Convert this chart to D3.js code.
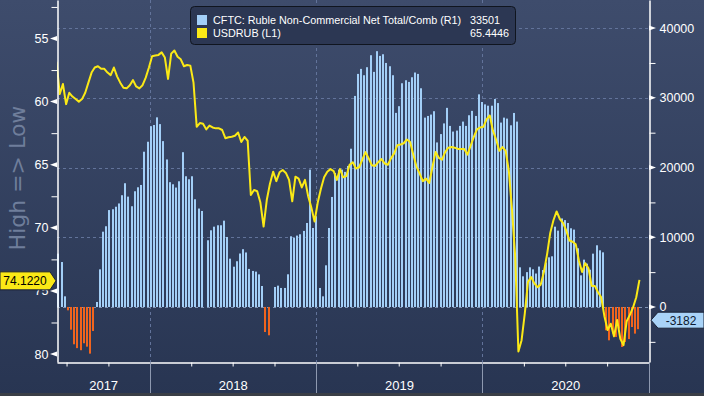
<!DOCTYPE html>
<html>
<head>
<meta charset="utf-8">
<script src="https://cdn.jsdelivr.net/npm/d3@7"></script>
<style>
  html, body { margin: 0; padding: 0; background: #2b3856; }
  svg { display: block; }
  text { font-family: "Liberation Sans", Arial, sans-serif; }
</style>
</head>
<body>
<div id="chart"></div>
<script>
// CFTC Ruble non-commercial net positions, weekly (Tuesdays) from barStart
var barStart = "2017-06-13";
var bars2017 = [7650, 6450, 1530, -480, -3250, -5350, -5900, -6200, -5200, -5690, -6690, -3440,
  720, 5400, 10800, 11580, 13900, 14020, 14380, 14850, 16030, 17750, 15830, 14450, 16600, 17170,
  17500, 22270, 23700];
var bars2018 = [25930, 26100, 27200, 26230, 23790, 21160, 17900, 17600, 17130, 18030, 22200, 18750,
  18320, 18750, 15450, 14120, 13770, null, 9570, 11000, 11520, 11720, 11720, 12380, 10040, 6930,
  5780, 6560, 7670, 8290, 7820, 5460, 5170, 5070, 4680, 3010, -3590, -4060, null, 2870, 3060, 2730,
  2730, 4690, 10140, 9950, 10240, 10430, 10910, 12050, 19700, 11330];
var bars2019 = [13000, 2730, 1530, 5980, 11330, 15780, 19220, 19700, 19700, 19380, 20230, 22700,
  30270, 33430, 34150, 33240, 34390, 36110, 33720, 36690, 36010, 36250, 35000, 34530, 33240, 27840,
  28800, 32090, 32520, 32280, 32950, 33630, 33430, 31370, 27160, 27400, 27600, 28080, 23600, 24800,
  26330, 28560, 25970, 25160, 25300, 25970, 26590, 25970, 27500, 28130, 27400, 30500, 29400];
var bars2020 = [29060, 28870, 28870, 29830, 29250, 26450, 27160, 27020, 26060, 27830, 26590,
  5690, 4400, 5000, 5690, 5400, 4800, 5800, 5300, 6390, 7120, 7270,
  11520, 10950, 12700, 12460, 12050, 11290, 11100, 8420, 4540, 6790, 6220, 5350, 7650, 8850, 8130, 7840,
  -3340, -4780, -3820, -4300, -3100, -5740, -5020, -4600, -2870, -3820, -3182];

// USDRUB weekly closes (Fridays) from lineStart
var lineStart = "2017-06-09";
var usd2017 = [56.84, 59.4, 58.6, 60.2, 59.3, 59.6, 59.8, 60.0, 59.8, 59.3, 58.5, 57.7, 57.3, 57.2,
  57.4, 57.4, 57.7, 57.9, 57.3, 58.0, 58.5, 58.9, 58.95, 58.7, 58.3, 58.8, 58.95, 58.7, 58.1, 57.3];
var usd2018 = [56.4, 56.35, 56.3, 56.1, 56.5, 58.2, 56.2, 55.95, 56.45, 56.65, 57.2, 57.1, 57.15,
  58.5, 61.99, 61.7, 61.75, 62.2, 61.9, 62.05, 62.12, 62.12, 62.25, 62.9, 62.83, 62.78, 62.7, 62.45,
  63.2, 62.8, 63.1, 67.4, 67.0, 67.1, 68.0, 69.9, 67.8, 66.5, 65.55, 66.3, 65.6, 65.42, 65.65, 66.2,
  67.9, 65.95, 66.1, 66.8, 66.2, 67.5, 68.4, 69.5];
var usd2019 = [68.0, 66.9, 66.0, 65.55, 65.35, 65.5, 66.2, 65.35, 66.0, 65.9, 65.0, 64.8, 65.3, 65.2,
  64.6, 64.0, 64.5, 65.05, 65.1, 64.8, 64.55, 64.9, 65.0, 64.5, 64.1, 63.45, 63.4, 63.3, 63.0, 63.2,
  64.2, 65.15, 65.7, 66.3, 66.1, 66.45, 65.2, 64.0, 64.45, 64.6, 64.0, 63.65, 63.6, 63.65, 63.75,
  63.75, 63.75, 64.2, 63.5, 62.8, 62.2, 62.05];
var usd2020 = [62.0, 61.4, 61.1, 62.3, 63.0, 63.9, 63.6, 63.9, 65.5, 68.6, 72.3, 79.8, 78.9, 76.8,
  74.3, 73.9, 74.4, 74.7, 74.5, 73.5, 72.1, 70.4, 69.4, 68.7, 69.3, 69.6, 70.2, 71.0, 71.1, 71.3,
  72.6, 73.5, 72.8, 73.2, 74.6, 74.6, 75.1, 75.5, 77.0, 78.1, 77.6, 78.6, 77.3, 78.8, 79.3, 77.4,
  76.9, 76.3, 75.5, 74.122];

var yearLabels = ["2017", "2018", "2019", "2020"];
var leftMajor = [55, 60, 65, 70, 75, 80];
var leftMinor = [52.5, 57.5, 62.5, 67.5, 72.5, 77.5];
var rightMajor = [0, 10000, 20000, 30000, 40000];
var rightMinor = [-5000, 5000, 15000, 25000, 35000];
var legendNames = ["CFTC: Ruble Non-Commercial Net Total/Comb (R1)", "USDRUB (L1)"];
var legendValues = ["33501", "65.4446"];
var lastLineLabel = "74.1220", lastLineValue = 74.122;
var lastBarLabel = "-3182", lastBarValue = -3182;

var W = 704, H = 396;
var plot = {left: 57, right: 649, top: 0, bottom: 362};
var blue = "#a3cff7", orange = "#f0641e", yellow = "#fbe916";

// build dated series
var parse = d3.utcParse("%Y-%m-%d");
var barValues = bars2017.concat(bars2018, bars2019, bars2020);
var barData = barValues.map(function(v, i){ return {date: d3.utcDay.offset(parse(barStart), 7*i), value: v}; })
  .filter(function(d){ return d.value !== null; });
var lineValues = usd2017.concat(usd2018, usd2019, usd2020);
var lineData = lineValues.map(function(v, i){ return {date: d3.utcDay.offset(parse(lineStart), 7*i), value: v}; });

var svg = d3.select("#chart").append("svg").attr("width", W).attr("height", H);

// background
var defs = svg.append("defs");
var grad = defs.append("linearGradient").attr("id", "bg")
  .attr("x1", 0).attr("y1", 0).attr("x2", 0).attr("y2", 1);
grad.append("stop").attr("offset", "0%").attr("stop-color", "#3e4c6c");
grad.append("stop").attr("offset", "100%").attr("stop-color", "#283552");
svg.append("rect").attr("width", W).attr("height", H).attr("fill", "url(#bg)");
svg.append("rect").attr("y", H - 3).attr("width", W).attr("height", 3).attr("fill", "#3a3e46");

defs.append("clipPath").attr("id", "clipPlot").append("rect")
  .attr("x", plot.left).attr("y", plot.top)
  .attr("width", plot.right - plot.left).attr("height", plot.bottom - plot.top);

// scales
var x = d3.scaleUtc()
  .domain([parse("2017-06-10"), parse("2021-01-01")])
  .range([plot.left, plot.right]);
var yL = d3.scaleLinear().domain([51.95, 80.63]).range([plot.top, plot.bottom]);   // inverted: High => Low
var yR = d3.scaleLinear().domain([-7890, 44030]).range([plot.bottom, plot.top]);

// gridlines
var grid = svg.append("g").attr("class", "grid");
grid.selectAll(".h").data(rightMajor).enter().append("line")
  .attr("x1", plot.left).attr("x2", plot.right)
  .attr("y1", function(d){ return Math.round(yR(d)) + 0.5; })
  .attr("y2", function(d){ return Math.round(yR(d)) + 0.5; })
  .attr("stroke", function(d){ return d === 0 ? "#7f92b3" : "#62739a"; })
  .attr("stroke-dasharray", "3,3");
var yearStarts = [parse("2018-01-01"), parse("2019-01-01"), parse("2020-01-01")];
grid.selectAll(".v").data(yearStarts).enter().append("line")
  .attr("x1", function(d){ return Math.round(x(d)) + 0.5; })
  .attr("x2", function(d){ return Math.round(x(d)) + 0.5; })
  .attr("y1", plot.top).attr("y2", plot.bottom)
  .attr("stroke", "#62739a").attr("stroke-dasharray", "3,3");

var inner = svg.append("g").attr("clip-path", "url(#clipPlot)");

// bars
inner.selectAll(".bar").data(barData).enter().append("rect")
  .attr("class", "bar")
  .attr("x", function(d){ return Math.round(x(d.date) - 1); })
  .attr("width", 2)
  .attr("y", function(d){ return d.value >= 0 ? yR(d.value) : yR(0); })
  .attr("height", function(d){ return Math.abs(yR(d.value) - yR(0)); })
  .attr("fill", function(d){ return d.value >= 0 ? blue : orange; });

// USDRUB line
var line = d3.line()
  .x(function(d){ return x(d.date); })
  .y(function(d){ return yL(d.value); });
inner.append("path").datum(lineData)
  .attr("d", line)
  .attr("fill", "none")
  .attr("stroke", yellow)
  .attr("stroke-width", 2)
  .attr("stroke-linejoin", "round");

// bottom axis: quarter ticks, year separators, year labels
var quarters = [];
d3.utcMonth.every(3).range(parse("2017-07-01"), parse("2021-01-01")).forEach(function(d){
  if (d.getUTCMonth() !== 0) quarters.push(d);
});
var xAxis = d3.axisBottom(x).tickValues(quarters).tickSize(4).tickSizeOuter(0).tickFormat("");
var gX = svg.append("g").attr("transform", "translate(0," + (plot.bottom + 0.5) + ")").call(xAxis);
gX.select(".domain").attr("stroke", "#ffffff").attr("stroke-width", 1.5);
gX.selectAll(".tick line").attr("stroke", "#ffffff");

var seps = yearStarts.concat([parse("2021-01-01")]);
svg.selectAll(".sep").data(seps).enter().append("line")
  .attr("x1", function(d){ return Math.round(x(d)) + 0.5; })
  .attr("x2", function(d){ return Math.round(x(d)) + 0.5; })
  .attr("y1", plot.bottom).attr("y2", H - 3)
  .attr("stroke", "#8e99b0");

var yearBounds = [parse("2017-06-10")].concat(seps);
svg.selectAll(".year").data(yearLabels).enter().append("text")
  .attr("x", function(d, i){ return (x(yearBounds[i]) + x(yearBounds[i + 1])) / 2; })
  .attr("y", 390)
  .attr("text-anchor", "middle")
  .attr("fill", "#ffffff")
  .style("font-size", "13px")
  .text(function(d){ return d; });

// left axis
var gL = svg.append("g").attr("transform", "translate(" + (plot.left + 0.5) + ",0)")
  .call(d3.axisLeft(yL).tickValues(leftMajor).tickSize(0).tickSizeOuter(0).tickPadding(9));
gL.select(".domain").attr("stroke", "#ffffff").attr("stroke-width", 1.5);
gL.selectAll("text").attr("fill", "#ffffff").style("font-size", "12.5px");
var gLm = svg.append("g").attr("transform", "translate(" + (plot.left + 0.5) + ",0)")
  .call(d3.axisLeft(yL).tickValues(leftMinor).tickSize(6).tickFormat(""));
gLm.select(".domain").remove();
gLm.selectAll(".tick line").attr("stroke", "#ffffff");
svg.selectAll(".ltri").data(leftMajor).enter().append("path")
  .attr("d", function(d){ var y = yL(d); return "M" + plot.left + "," + (y - 2.5) + "L" + (plot.left - 7) + "," + y + "L" + plot.left + "," + (y + 2.5) + "Z"; })
  .attr("fill", "#ffffff");

// right axis
var gR = svg.append("g").attr("transform", "translate(" + (plot.right + 0.5) + ",0)")
  .call(d3.axisRight(yR).tickValues(rightMajor).tickSize(0).tickSizeOuter(0).tickPadding(10).tickFormat(d3.format("d")));
gR.select(".domain").attr("stroke", "#ffffff").attr("stroke-width", 1.5);
gR.selectAll("text").attr("fill", "#ffffff").style("font-size", "12.5px");
var gRm = svg.append("g").attr("transform", "translate(" + (plot.right + 0.5) + ",0)")
  .call(d3.axisRight(yR).tickValues(rightMinor).tickSize(6).tickFormat(""));
gRm.select(".domain").remove();
gRm.selectAll(".tick line").attr("stroke", "#ffffff");
svg.selectAll(".rtri").data(rightMajor).enter().append("path")
  .attr("d", function(d){ var y = yR(d); return "M" + plot.right + "," + (y - 2.5) + "L" + (plot.right + 7) + "," + y + "L" + plot.right + "," + (y + 2.5) + "Z"; })
  .attr("fill", "#ffffff");

// left axis title
svg.append("text")
  .attr("transform", "translate(25,178)rotate(-90)")
  .attr("text-anchor", "middle")
  .attr("fill", "#6f7e9b")
  .style("font-family", "'DejaVu Sans', sans-serif")
  .style("font-size", "22px")
  .text("High => Low");

// last value callouts
var ly = yL(lastLineValue) + 1;
svg.append("path")
  .attr("d", "M0," + (ly - 9) + "H50L56," + ly + "L50," + (ly + 9) + "H0Z")
  .attr("fill", yellow).attr("stroke", "#1a2236").attr("stroke-width", 1);
svg.append("text").attr("x", 25).attr("y", ly + 4.5).attr("text-anchor", "middle")
  .attr("fill", "#000000").style("font-size", "12px").text(lastLineLabel);

var by = yR(lastBarValue) - 9;   // shifted up to clear the "0" label
svg.append("path")
  .attr("d", "M651," + by + "L658," + (by - 8) + "H704V" + (by + 8) + "H658Z")
  .attr("fill", "#a9d3f7").attr("stroke", "#1a2236").attr("stroke-width", 1);
svg.append("text").attr("x", 681).attr("y", by + 4.5).attr("text-anchor", "middle")
  .attr("fill", "#0d1a30").style("font-size", "12px").text(lastBarLabel);

// legend
var lg = svg.append("g").attr("class", "legend");
lg.append("rect").attr("x", 190.5).attr("y", 6.5).attr("width", 325).attr("height", 38).attr("rx", 4)
  .attr("fill", "#2c3753").attr("stroke", "#10151f");
var rows = lg.selectAll(".row").data(legendNames).enter().append("g")
  .attr("transform", function(d, i){ return "translate(0," + (20 + i * 13) + ")"; });
rows.append("rect").attr("x", 197).attr("y", -5).attr("width", 10).attr("height", 10)
  .attr("fill", function(d, i){ return i === 0 ? blue : yellow; });
rows.append("text").attr("x", 213).attr("y", 4).attr("fill", "#ffffff")
  .style("font-size", "10.8px").text(function(d){ return d; });
rows.append("text").attr("x", 470).attr("y", 4).attr("fill", "#ffffff")
  .style("font-size", "10.8px").text(function(d, i){ return legendValues[i]; });
</script>
</body>
</html>
